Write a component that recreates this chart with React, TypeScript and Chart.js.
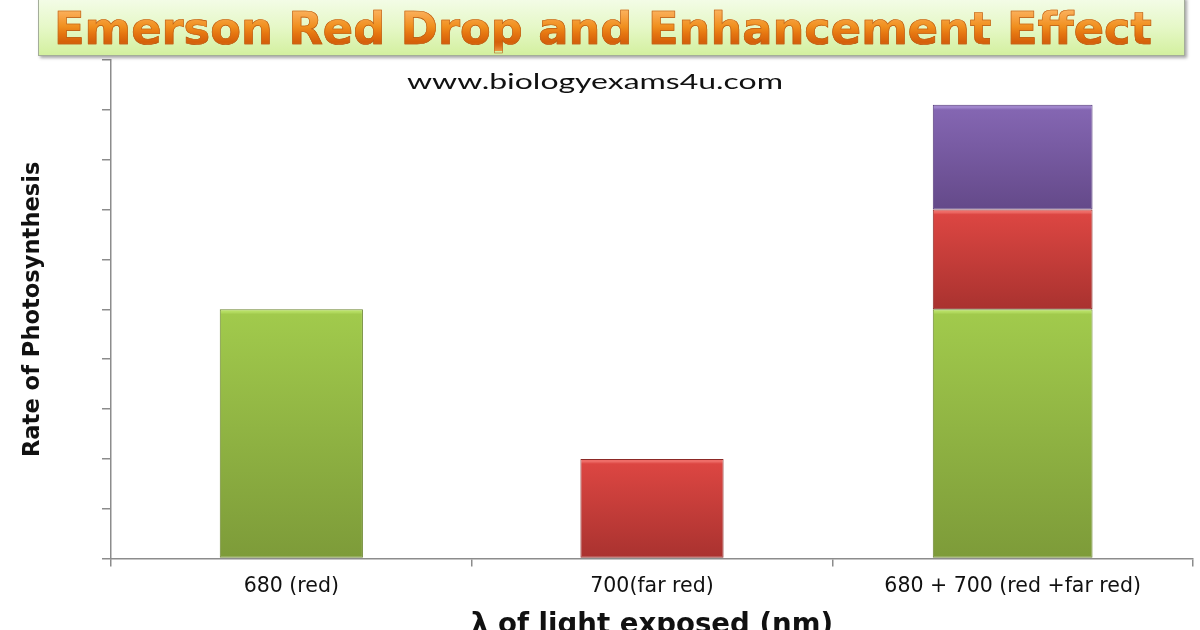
import React, { useEffect, useLayoutEffect, useRef } from "react";
import { Chart, registerables } from "chart.js";

Chart.register(...registerables);

// ---------- data ----------
const categories = ["680 (red)", "700(far red)", "680 + 700 (red +far red)"];
const red680 = [5, null, 5];
const farRed700 = [null, 2, 2];
const enhancement = [null, null, 2.1];
const yMax = 10;
const yStep = 1;
const combinedIndex = 2;

const titleText = "Emerson Red Drop and Enhancement Effect";
const subtitleText = "www.biologyexams4u.com";
const xAxisTitle = "λ of light exposed (nm)";
const yAxisTitle = "Rate of Photosynthesis";

// ---------- styles ----------
const axisColor = "#8c8c8c";
const green = { bevel: "#b6de63", top: "#a1ca4c", bottom: "#7d9b39", border: "#6c8630" };
const red = { bevel: "#ee6d68", top: "#dc4642", bottom: "#a9322f", border: "#8c2926" };
const purple = { bevel: "#a086cc", top: "#8466b2", bottom: "#644989", border: "#54397a" };

type Pal = { bevel: string; top: string; bottom: string; border: string };

function only(arr: (number | null)[], keep: (i: number) => boolean) {
  return arr.map((v, i) => (keep(i) ? v : null));
}

function barFill(p: Pal) {
  return (ctx: any) => {
    const chart = ctx.chart;
    if (ctx.type !== "data" || !chart.chartArea || !chart.scales || !chart.scales.y) return p.top;
    const ds = chart.data.datasets;
    const i = ctx.dataIndex;
    const d = ctx.datasetIndex;
    const v = ds[d].data[i];
    if (typeof v !== "number") return p.top;
    let start = 0;
    for (let j = 0; j < d; j++) {
      const w = ds[j].data[i];
      if (typeof w === "number") start += w;
    }
    const ys = chart.scales.y;
    const top = ys.getPixelForValue(start + v);
    const bottom = ys.getPixelForValue(start);
    const h = Math.max(1, bottom - top);
    const g = chart.ctx.createLinearGradient(0, top, 0, bottom);
    const b = Math.min(0.3, 5 / h);
    g.addColorStop(0, p.bevel);
    g.addColorStop(b * 0.5, p.bevel);
    g.addColorStop(b, p.top);
    g.addColorStop(1, p.bottom);
    return g;
  };
}

function FitText(props: { text: string; left: number; top: number; width: number; style: React.CSSProperties }) {
  const ref = useRef<HTMLSpanElement>(null);
  useLayoutEffect(() => {
    const fit = () => {
      const el = ref.current;
      if (!el) return;
      el.style.transform = "none";
      const w = el.getBoundingClientRect().width;
      if (w > 0) el.style.transform = `scaleX(${props.width / w})`;
    };
    fit();
    if ((document as any).fonts && (document as any).fonts.ready) {
      (document as any).fonts.ready.then(fit);
    }
  }, [props.text, props.width]);
  return (
    <span
      ref={ref}
      style={{
        position: "absolute",
        left: props.left,
        top: props.top,
        whiteSpace: "nowrap",
        display: "inline-block",
        transformOrigin: "0 0",
        ...props.style,
      }}
    >
      {props.text}
    </span>
  );
}

export default function App() {
  const canvasRef = useRef<HTMLCanvasElement>(null);

  useEffect(() => {
    document.body.style.margin = "0";
    const canvas = canvasRef.current;
    if (!canvas) return;

    const single = (i: number) => i !== combinedIndex;
    const combined = (i: number) => i === combinedIndex;

    const mk = (label: string, data: (number | null)[], p: Pal, bp: number) => ({
      label,
      data,
      backgroundColor: barFill(p),
      borderColor: p.border,
      borderWidth: 1,
      borderSkipped: false,
      barPercentage: bp,
      categoryPercentage: 1,
    });

    const chart = new Chart(canvas, {
      type: "bar",
      data: {
        labels: categories,
        datasets: [
          mk("680 nm", only(red680, single), green, 0.397),
          mk("700 nm", only(farRed700, single), red, 0.397),
          mk("680 nm (together)", only(red680, combined), green, 0.443),
          mk("700 nm (together)", only(farRed700, combined), red, 0.443),
          mk("Enhancement", enhancement, purple, 0.443),
        ] as any,
      },
      options: {
        responsive: false,
        animation: false,
        devicePixelRatio: 1,
        layout: { padding: { left: 0, right: 7, top: 60, bottom: 0 } },
        plugins: {
          legend: { display: false },
          tooltip: { enabled: false },
          title: { display: false },
        },
        scales: {
          x: {
            stacked: true,
            grid: {
              offset: true,
              drawOnChartArea: false,
              drawTicks: true,
              tickLength: 8,
              color: axisColor,
              lineWidth: 1.5,
            },
            border: { display: true, color: axisColor, width: 1.5 },
            ticks: {
              color: "#111111",
              font: { family: "DejaVu Sans", size: 20.5 },
              padding: 8,
              maxRotation: 0,
              autoSkip: false,
            },
            title: {
              display: true,
              text: xAxisTitle,
              color: "#111111",
              font: { family: "DejaVu Sans", size: 27.6, weight: "bold", lineHeight: 1 },
              padding: { top: 5, bottom: -9.8 },
            },
          },
          y: {
            stacked: true,
            min: 0,
            max: yMax,
            ticks: { stepSize: yStep, display: false },
            grid: {
              drawOnChartArea: false,
              drawTicks: true,
              tickLength: 9,
              color: axisColor,
              lineWidth: 1.5,
            },
            border: { display: true, color: axisColor, width: 1.5 },
            title: {
              display: true,
              text: yAxisTitle,
              color: "#111111",
              font: { family: "DejaVu Sans", size: 22.6, weight: "bold", lineHeight: 1 },
              padding: { top: 21.7, bottom: 57.7 },
            },
          },
        },
      } as any,
    });

    return () => chart.destroy();
  }, []);

  return (
    <div
      style={{
        position: "fixed",
        left: 0,
        top: 0,
        width: 1200,
        height: 630,
        overflow: "hidden",
        background: "#ffffff",
      }}
    >
      <canvas
        ref={canvasRef}
        width={1200}
        height={630}
        style={{ position: "absolute", left: 0, top: 0, width: 1200, height: 630 }}
      />
      <div
        style={{
          position: "absolute",
          left: 38,
          top: -3,
          width: 1147,
          height: 59,
          border: "1px solid #a4ad9a",
          background: "linear-gradient(to bottom, #f4fce8 0%, #e6f8c8 50%, #d3f09f 100%)",
          boxShadow: "2px 2px 3px rgba(0,0,0,0.35)",
          boxSizing: "border-box",
        }}
      />
      <FitText
        text={titleText}
        left={54}
        top={6}
        width={1098}
        style={{
          fontFamily: "'DejaVu Sans', sans-serif",
          fontWeight: "bold",
          fontSize: 45,
          lineHeight: "45px",
          color: "transparent",
          background:
            "linear-gradient(to bottom, #fdbb6c 0%, #f8a548 22%, #f0901f 45%, #e57510 62%, #d5600a 80%, #dc6c16 88%, #ec9440 100%)",
          WebkitBackgroundClip: "text",
          backgroundClip: "text",
          WebkitTextStroke: "0.6px #b85a12",
        }}
      />
      <FitText
        text={subtitleText}
        left={407}
        top={69.5}
        width={376}
        style={{
          fontFamily: "Lato, sans-serif",
          fontSize: 22,
          lineHeight: "22px",
          color: "#111111",
        }}
      />
    </div>
  );
}
